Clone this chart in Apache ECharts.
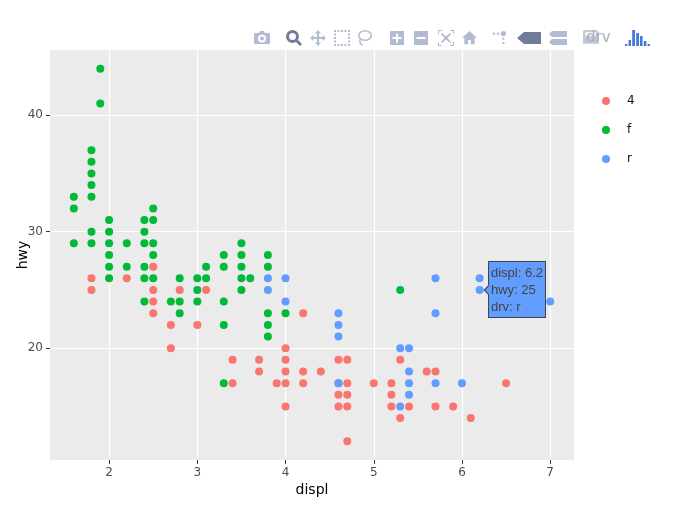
<![CDATA[<!DOCTYPE html>
<html>
<head>
<meta charset="utf-8">
<title>mpg</title>
<style>html,body{margin:0;padding:0;background:#fff}#plot{width:673px;height:509px}</style>
<script src="https://cdn.jsdelivr.net/npm/echarts@6/dist/echarts.min.js"></script>
</head>
<body>
<div id="plot"></div>
<script>
var xTicks = [2, 3, 4, 5, 6, 7];
var yTicks = [20, 30, 40];
var displ4 = [1.8,1.8,2.2,2.5,2.5,2.5,2.5,2.7,2.7,2.8,3.0,3.1,3.4,3.4,3.7,3.7,3.9,4.0,4.0,4.0,4.0,4.0,4.2,4.2,4.2,4.4,4.6,4.6,4.6,4.6,4.7,4.7,4.7,4.7,4.7,5.0,5.2,5.2,5.2,5.3,5.3,5.4,5.6,5.7,5.7,5.9,6.1,6.5];
var hwy4 =   [26,25,26,27,25,24,23,22,20,25,22,25,19,17,19,18,17,20,19,18,17,15,23,18,17,18,19,17,16,15,19,17,16,15,12,17,17,16,15,19,14,15,18,18,15,15,14,17];
var displF = [1.6,1.6,1.6,1.8,1.8,1.8,1.8,1.8,1.8,1.8,1.9,1.9,2.0,2.0,2.0,2.0,2.0,2.0,2.2,2.2,2.4,2.4,2.4,2.4,2.4,2.4,2.5,2.5,2.5,2.5,2.5,2.7,2.8,2.8,2.8,3.0,3.0,3.0,3.1,3.1,3.3,3.3,3.3,3.3,3.3,3.5,3.5,3.5,3.5,3.5,3.6,3.8,3.8,3.8,3.8,3.8,4.0,5.3];
var hwyF =   [33,32,29,37,36,35,34,33,30,29,44,41,31,30,29,28,27,26,29,27,31,30,29,27,26,24,32,31,29,28,26,24,26,24,23,26,25,24,27,26,28,27,24,22,17,29,28,27,26,25,26,28,27,23,22,21,23,25];
var displR = [3.8,3.8,4.0,4.0,4.6,4.6,4.6,4.6,5.3,5.3,5.4,5.4,5.4,5.4,5.7,5.7,5.7,6.0,6.2,6.2,7.0];
var hwyR =   [26,25,26,24,23,22,21,17,20,15,20,18,17,16,26,23,17,17,26,25,24];
var driveNames = ['4', 'f', 'r'];
var driveColors = ['#F8766D', '#00BA38', '#619CFF'];

function zip (xs, ys) {
	return xs.map(function (x, i) { return [x, ys[i]]; });
}

// modebar icons, left edge in px, top, size
var light = '#b2bbd1', dark = '#6f7d9b';
var boxDots = 'M0 0h2v2h-2z M3.5 0h2v2h-2z M7 0h2v2h-2z M10.5 0h2v2h-2z M14 0h2v2h-2z M0 3.5h2v2h-2z M14 3.5h2v2h-2z M0 7h2v2h-2z M14 7h2v2h-2z M0 10.5h2v2h-2z M14 10.5h2v2h-2z M0 14h2v2h-2z M3.5 14h2v2h-2z M7 14h2v2h-2z M10.5 14h2v2h-2z M14 14h2v2h-2z';
var icons = [
	{ x: 254, y: 31, s: 16, c: light, p: 'M1 2H5L6 0H10L11 2H15Q16 2 16 3V12Q16 13 15 13H1Q0 13 0 12V3Q0 2 1 2Z M8 3.5A4 4 0 0 0 8 11.5A4 4 0 0 0 8 3.5Z M8 5.5A2 2 0 0 1 8 9.5A2 2 0 0 1 8 5.5Z' },
	{ x: 286, y: 30, s: 16, c: dark, p: 'M6.5 0A6.5 6.5 0 0 1 6.5 13A6.5 6.5 0 0 1 6.5 0Z M6.5 3A3.5 3.5 0 0 0 6.5 10A3.5 3.5 0 0 0 6.5 3Z M9.5 11.5L11.5 9.5L16 14L14 16Z' },
	{ x: 310, y: 30, s: 16, c: light, p: 'M8 0L11 3.5H9V7H12.5V5L16 8L12.5 11V9H9V12.5H11L8 16L5 12.5H7V9H3.5V11L0 8L3.5 5V7H7V3.5H5Z' },
	{ x: 334, y: 30, s: 16, c: light, p: boxDots },
	{ x: 358, y: 30, s: 16, c: light, p: 'M9 0A7 5.5 0 0 1 9 11A7 5.5 0 0 1 9 0Z M9 1.5A5.5 4 0 0 0 9 9.5A5.5 4 0 0 0 9 1.5Z M3 9.5L4.5 9.5L5 13L7 15L6 16L3.5 13.5Z' },
	{ x: 390, y: 31, s: 14, c: light, p: 'M0 0H14V14H0Z M6 2.5V6H2.5V8H6V11.5H8V8H11.5V6H8V2.5Z' },
	{ x: 414, y: 31, s: 14, c: light, p: 'M0 0H14V14H0Z M2.5 6V8H11.5V6Z' },
	{ x: 438, y: 30, s: 16, c: light, p: 'M0 0H4V1H1V4H0Z M12 0H16V4H15V1H12Z M0 12H1V15H4V16H0Z M15 12H16V16H12V15H15Z M4 3L8 6.5L12 3L13 4L9.5 8L13 12L12 13L8 9.5L4 13L3 12L6.5 8L3 4Z' },
	{ x: 462, y: 31, s: 15, c: light, p: 'M8 0L16 7.5H13.5V14H9.5V9.5H6.5V14H2.5V7.5H0Z' },
	{ x: 493, y: 31, s: 13, c: light, p: 'M0 1.5h2v2h-2z M4 1.5h2v2h-2z M10 0A2.5 2.5 0 0 1 10 5A2.5 2.5 0 0 1 10 0Z M9 6.5h2v2h-2z M9 10.5h2v2h-2z' },
	{ x: 517, y: 32, s: 24, c: dark, p: 'M0 6L7 0H24V12H7Z' },
	{ x: 549, y: 31, s: 18, c: light, p: 'M3 0H18V6H3L0 3Z M3 8H18V14H3L0 11Z' },
	{ x: 583, y: 30, s: 16, c: '#c3c9da', p: 'M3 0H14L16 2V12H2V1ZM4 2V5H13V2Z' },
	{ x: 625, y: 30, s: 25, c: '#447adb', p: 'M0 14h2.4v2h-2.4z M3.6 10h2.4v6h-2.4z M7.2 0h2.8v16h-2.8z M11.2 3h2.8v13h-2.8z M15 6h2.6v10h-2.6z M18.8 11h2.6v5h-2.6z M22.6 14h2.4v2h-2.4z' }
];

var toolboxes = icons.map(function (ic, i) {
	var feature = {};
	feature['myIcon' + i] = { show: true, title: '', icon: 'path://' + ic.p, onclick: function () {} };
	return {
		show: true, left: ic.x, top: ic.y, padding: 0, itemSize: ic.s, itemGap: 0,
		iconStyle: { color: ic.c, borderWidth: 0 },
		emphasis: { iconStyle: { color: ic.c, borderWidth: 0 } },
		feature: feature
	};
});

var series = [zip(displ4, hwy4), zip(displF, hwyF), zip(displR, hwyR)].map(function (pts, i) {
	return {
		name: driveNames[i],
		type: 'scatter',
		data: pts,
		symbol: 'circle',
		symbolSize: 8,
		itemStyle: { color: driveColors[i], opacity: 1 },
		emphasis: { disabled: true }
	};
});

var option = {
	animation: false,
	backgroundColor: '#fff',
	textStyle: { fontFamily: 'DejaVu Sans' },
	title: {
		text: 'drv', left: 586, top: 31, padding: 0,
		textStyle: { color: '#a9aebb', fontSize: 15, fontWeight: 'normal', fontFamily: 'DejaVu Sans' }
	},
	grid: { left: 50, right: 99, top: 50, bottom: 49, backgroundColor: '#EBEBEB', show: true, borderWidth: 0, outerBoundsMode: 'none' },
	xAxis: {
		type: 'value', min: 1.33, max: 7.27,
		name: 'displ', nameLocation: 'middle', nameGap: 23, nameMoveOverlap: false,
		nameTextStyle: { color: '#000', fontSize: 14, fontFamily: 'DejaVu Sans' },
		axisLine: { show: false },
		axisTick: { show: true, length: 4, customValues: xTicks, lineStyle: { color: '#333', width: 1 } },
		axisLabel: { customValues: xTicks, color: '#4d4d4d', fontSize: 12, margin: 7, fontFamily: 'DejaVu Sans' },
		splitLine: { show: true, lineStyle: { color: '#fff', width: 1.2 } }
	},
	yAxis: {
		type: 'value', min: 10.4, max: 45.6,
		name: 'hwy', nameLocation: 'middle', nameGap: 20, nameMoveOverlap: false,
		nameTextStyle: { color: '#000', fontSize: 14, fontFamily: 'DejaVu Sans' },
		axisLine: { show: false },
		axisTick: { show: true, length: 4, customValues: yTicks, lineStyle: { color: '#333', width: 1 } },
		axisLabel: { customValues: yTicks, color: '#4d4d4d', fontSize: 12, margin: 7, fontFamily: 'DejaVu Sans' },
		splitLine: { show: true, lineStyle: { color: '#fff', width: 1.2 } }
	},
	legend: {
		orient: 'vertical', left: 602, top: 95, padding: 0,
		data: driveNames, icon: 'circle', itemWidth: 8, itemHeight: 8, itemGap: 17,
		selectedMode: false,
		textStyle: { color: '#111', fontSize: 12, fontFamily: 'DejaVu Sans', padding: [0, 0, 0, 12] }
	},
	tooltip: {
		show: true, trigger: 'item', triggerOn: 'none', alwaysShowContent: true,
		position: 'right', transitionDuration: 0,
		backgroundColor: driveColors[2], borderColor: '#444', borderWidth: 1, padding: [2, 2],
		textStyle: { color: '#444', fontSize: 13, fontFamily: 'Liberation Sans', lineHeight: 17 },
		extraCssText: 'box-shadow:none;border-radius:0;line-height:17px;margin-left:-6px;',
		formatter: function (p) {
			return 'displ: ' + p.value[0].toFixed(1) + '<br>hwy: ' + p.value[1] + '<br>drv: ' + p.seriesName;
		}
	},
	toolbox: toolboxes,
	series: series
};

var myChart = echarts.init(document.getElementById('plot'), null, { renderer: 'canvas' });
myChart.setOption(option);

// the reference was captured while hovering this point
var hoverIndex = series[2].data.findIndex(function (d) { return d[0] === 6.2 && d[1] === 25; });
myChart.dispatchAction({ type: 'showTip', seriesIndex: 2, dataIndex: hoverIndex });
</script>
</body>
</html>
]]>
